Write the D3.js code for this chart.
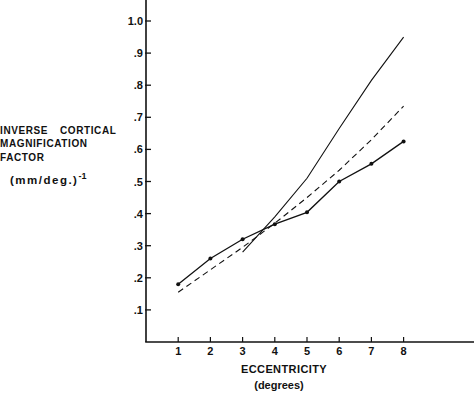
<!DOCTYPE html>
<html>
<head>
  <meta charset="utf-8">
  <script src="https://d3js.org/d3.v7.min.js"></script>
  <style type="text/css">
    body { margin: 0; background: #fff; }
    .lbl {
      font-family: "Liberation Sans", Arial, sans-serif;
      font-weight: bold;
      fill: #111;
    }
  </style>
</head>
<body>
  <script type="text/javascript">
    // eccentricity (degrees)
    var ecc = [1, 2, 3, 4, 5, 6, 7, 8];
    // measured values (solid line with dots)
    var measured = [0.18, 0.26, 0.32, 0.367, 0.404, 0.50, 0.555, 0.625];
    // dashed line
    var dashed = [0.155, 0.225, 0.295, 0.37, 0.45, 0.535, 0.63, 0.735];
    // plain solid line, starts at 3 deg
    var plainEcc = [3, 4, 5, 6, 7, 8];
    var plain = [0.28, 0.39, 0.51, 0.665, 0.815, 0.95];

    var yTicks = [0.1, 0.2, 0.3, 0.4, 0.5, 0.6, 0.7, 0.8, 0.9, 1.0];
    var yTickLabels = [".1", ".2", ".3", ".4", ".5", ".6", ".7", ".8", ".9", "1.0"];

    var width = 474, height = 394;

    var svg = d3.select('body').append('svg')
        .attr('width', width)
        .attr('height', height);

    var x = d3.scaleLinear().domain([0, 8]).range([146, 403.6]);
    var y = d3.scaleLinear().domain([0, 1]).range([342, 21]);

    // axes lines
    svg.append('line')
      .attr('x1', x(0)).attr('x2', x(0))
      .attr('y1', 0).attr('y2', y(0))
      .attr('stroke', '#111').attr('stroke-width', 1.6);
    svg.append('line')
      .attr('x1', x(0) - 0.8).attr('x2', width)
      .attr('y1', y(0)).attr('y2', y(0))
      .attr('stroke', '#111').attr('stroke-width', 1.6);

    // y ticks
    yTicks.forEach(function(t, i) {
      svg.append('line')
        .attr('x1', x(0) - 1).attr('x2', x(0) + 5)
        .attr('y1', y(t)).attr('y2', y(t))
        .attr('stroke', '#111').attr('stroke-width', 1.3);
      svg.append('text')
        .attr('class', 'lbl')
        .attr('x', x(0) - 3)
        .attr('y', y(t) + 4)
        .attr('text-anchor', 'end')
        .style('font-size', '11px')
        .text(yTickLabels[i]);
    });

    // x ticks
    ecc.forEach(function(t) {
      svg.append('line')
        .attr('x1', x(t)).attr('x2', x(t))
        .attr('y1', y(0) - 5).attr('y2', y(0))
        .attr('stroke', '#111').attr('stroke-width', 1.2);
      svg.append('text')
        .attr('class', 'lbl')
        .attr('x', x(t))
        .attr('y', y(0) + 12.5)
        .attr('text-anchor', 'middle')
        .style('font-size', '11px')
        .text(t);
    });

    // axis titles
    svg.append('text')
      .attr('class', 'lbl')
      .attr('x', 284).attr('y', 373)
      .attr('text-anchor', 'middle')
      .style('font-size', '11px')
      .style('letter-spacing', '0.4px')
      .text('ECCENTRICITY');
    svg.append('text')
      .attr('class', 'lbl')
      .attr('x', 279).attr('y', 389)
      .attr('text-anchor', 'middle')
      .style('font-size', '11px')
      .text('(degrees)');

    // y title, left block
    var ylab = [['INVERSE', 0], ['CORTICAL', 60], ['MAGNIFICATION', 0], ['FACTOR', 0]];
    var ylabRow = [0, 0, 1, 2];
    ylab.forEach(function(s, i) {
      svg.append('text')
        .attr('class', 'lbl')
        .attr('x', s[1]).attr('y', 133.5 + ylabRow[i] * 13.6)
        .style('font-size', '10px')
        .style('letter-spacing', '0.6px')
        .text(s[0]);
    });
    var unit = svg.append('text')
      .attr('class', 'lbl')
      .attr('x', 10).attr('y', 183.5)
      .style('font-size', '11.5px')
      .style('letter-spacing', '1.5px');
    unit.append('tspan').text('(mm/deg.)');
    unit.append('tspan').attr('dy', -5).style('font-size', '9px')
      .style('letter-spacing', '0px').text('-1');

    var line = d3.line()
      .x(function(d) { return x(d[0]); })
      .y(function(d) { return y(d[1]); });

    svg.append('path')
      .datum(d3.zip(ecc, dashed))
      .attr('d', line)
      .attr('fill', 'none')
      .attr('stroke', '#111')
      .attr('stroke-width', 1.1)
      .attr('stroke-dasharray', '6,4');

    svg.append('path')
      .datum(d3.zip(plainEcc, plain))
      .attr('d', line)
      .attr('fill', 'none')
      .attr('stroke', '#111')
      .attr('stroke-width', 1.1);

    svg.append('path')
      .datum(d3.zip(ecc, measured))
      .attr('d', line)
      .attr('fill', 'none')
      .attr('stroke', '#111')
      .attr('stroke-width', 1.3);

    svg.selectAll('circle.pt')
      .data(d3.zip(ecc, measured))
      .enter().append('circle')
      .attr('class', 'pt')
      .attr('cx', function(d) { return x(d[0]); })
      .attr('cy', function(d) { return y(d[1]); })
      .attr('r', 2)
      .attr('fill', '#111');
  </script>
</body>
</html>
